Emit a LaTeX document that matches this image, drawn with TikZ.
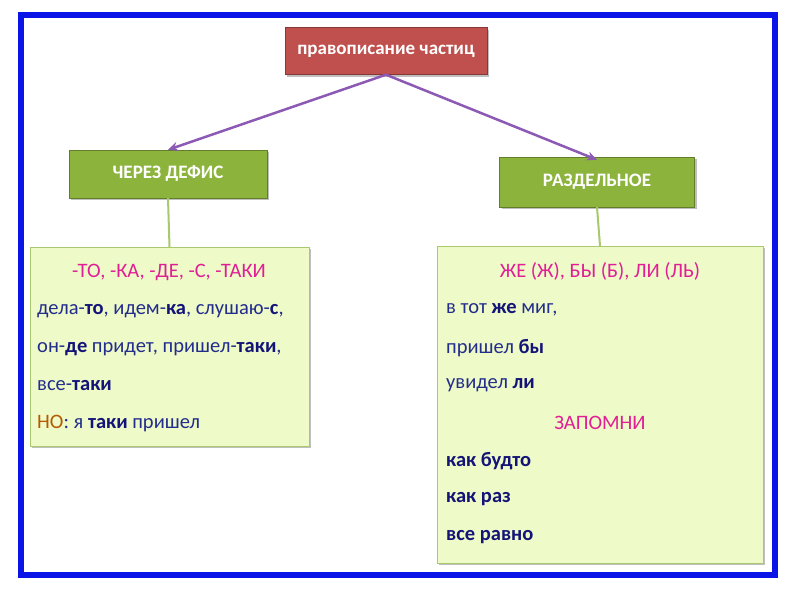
\documentclass[tikz,border=0pt]{standalone}
\usepackage{fontspec}
\setmainfont{Carlito}
\usetikzlibrary{arrows.meta,shadows}
\definecolor{frameblue}{RGB}{10,20,230}
\definecolor{redbox}{RGB}{192,80,77}
\definecolor{greenbox}{RGB}{140,180,60}
\definecolor{panel}{RGB}{238,250,200}
\definecolor{panelline}{RGB}{170,200,110}
\definecolor{arrowc}{RGB}{140,90,180}
\definecolor{pinkt}{RGB}{225,30,150}
\definecolor{bluet}{RGB}{35,45,140}
\definecolor{boldt}{RGB}{20,20,120}
\definecolor{brownt}{RGB}{180,90,0}
\begin{document}
\begin{tikzpicture}[x=1pt,y=-1pt,
  title/.style={draw=#1!70!black,fill=#1,text=white,font=\bfseries\fontsize{19}{20}\selectfont,inner sep=0pt,drop shadow},
  panelbox/.style={draw=panelline,fill=panel,drop shadow},
  txt/.style={anchor=west,text=bluet,font=\fontsize{20.5}{22}\selectfont,inner sep=0pt},
  hdr/.style={text=pinkt,font=\fontsize{20.5}{22}\selectfont,inner sep=0pt},
  conn/.style={arrowc,line width=2.5pt,-{Stealth[length=10pt,width=9pt]}}]
\useasboundingbox (0,0) rectangle (800,600);
\fill[white] (0,0) rectangle (800,600);
\draw[frameblue,line width=6pt] (21,15) rectangle (775,575);
\node[title=redbox,minimum width=202pt,minimum height=47pt] (top) at (386,51) {правописание частиц};
\node[title=greenbox,minimum width=198pt,minimum height=48pt] (left) at (168,174) {ЧЕРЕЗ ДЕФИС};
\node[title=greenbox,minimum width=195pt,minimum height=50pt] (right) at (597,182) {РАЗДЕЛЬНОЕ};
\node[panelbox,minimum width=279pt,minimum height=199pt,inner sep=0pt] (lp) at (169.5,346.5) {};
\node[panelbox,minimum width=326pt,minimum height=317pt,inner sep=0pt] (rp) at (600,404.5) {};
\draw[panelline,line width=2pt] (left.south) -- (lp.north);
\draw[panelline,line width=2pt] (right.south) -- (rp.north);
\draw[conn] (top.south) -- (left.north);
\draw[conn] (top.south) -- ([yshift=-3pt]right.north);
\newcommand{\bb}[1]{\textbf{\textcolor{boldt}{#1}}}
\node[hdr] (l0) at (169,272) {-ТО, -КА, -ДЕ, -С, -ТАКИ};
\node[txt] (l1) at (37,311) {дела-\bb{то}, идем-\bb{ка}, слушаю-\bb{с},};
\node[txt] (l2) at (37,349) {он-\bb{де} придет, пришел-\bb{таки},};
\node[txt] (l3) at (37,386) {все-\bb{таки}};
\node[txt] (l4) at (37,423) {\textcolor{brownt}{НО}: я \bb{таки} пришел};
\node[hdr] (r0) at (600,271) {ЖЕ (Ж), БЫ (Б), ЛИ (ЛЬ)};
\node[txt] (r1) at (446,310) {в тот \bb{же} миг,};
\node[txt] (r2) at (446,348) {пришел \bb{бы}};
\node[txt] (r3) at (446,385) {увидел \bb{ли}};
\node[hdr] (r4) at (600,423) {ЗАПОМНИ};
\node[txt] (r5) at (446,461) {\bb{как будто}};
\node[txt] (r6) at (446,499) {\bb{как раз}};
\node[txt] (r7) at (446,537) {\bb{все равно}};
\end{tikzpicture}
\end{document}
